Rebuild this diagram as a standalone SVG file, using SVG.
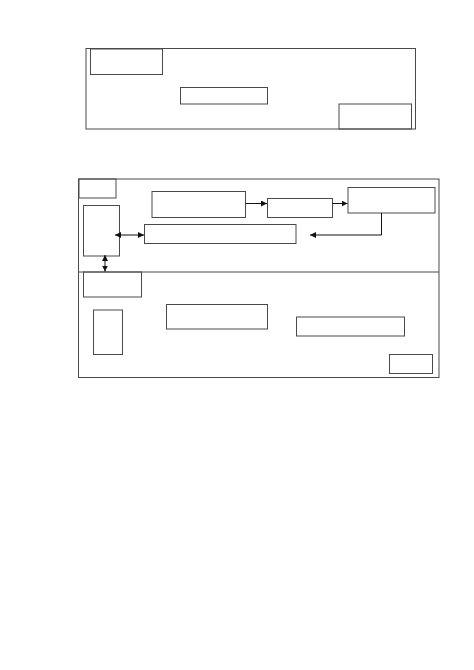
<svg xmlns="http://www.w3.org/2000/svg" width="474" height="670" viewBox="0 0 474 670">
<style>
.b{fill:none;stroke:#4a4a4a;stroke-width:1}
.c{fill:none;stroke:#111;stroke-width:1}
</style>
<defs>
<marker id="ah" viewBox="0 0 8 8" refX="8" refY="4" markerWidth="6" markerHeight="6" markerUnits="userSpaceOnUse" orient="auto-start-reverse">
<path d="M0,0 L8,4 L0,8 z" fill="#111"/>
</marker>
</defs>
<rect width="474" height="670" fill="#fff"/>
<g id="panel1">
<rect class="b" x="86" y="48.5" width="329.5" height="80.5"/>
<g id="p1a"><rect class="b" x="90.5" y="49" width="72" height="25.5"/></g>
<g id="p1b"><rect class="b" x="180.5" y="87.5" width="87" height="16.5"/></g>
<g id="p1c"><rect class="b" x="339" y="104" width="72.5" height="25"/></g>
</g>
<g id="panel2">
<rect class="b" x="78.5" y="179" width="360.5" height="198.5"/>
<line class="b" x1="78.5" y1="272" x2="439" y2="272"/>
</g>
<g id="n1"><rect class="b" x="79" y="179" width="37" height="19"/></g>
<g id="n2"><rect class="b" x="83.5" y="205.5" width="36" height="50.5"/></g>
<g id="n3"><rect class="b" x="152" y="191.5" width="93.5" height="26"/></g>
<g id="n4"><rect class="b" x="267.5" y="198.5" width="65" height="19"/></g>
<g id="n5"><rect class="b" x="348" y="187.5" width="87" height="25.5"/></g>
<g id="n6"><rect class="b" x="144.5" y="224.5" width="151.5" height="19"/></g>
<g id="n7"><rect class="b" x="83.5" y="272" width="58" height="25"/></g>
<g id="n8"><rect class="b" x="93.5" y="310" width="29" height="44.5"/></g>
<g id="n9"><rect class="b" x="166.5" y="304.5" width="101" height="24.5"/></g>
<g id="n10"><rect class="b" x="296.5" y="317" width="108" height="19"/></g>
<g id="n11"><rect class="b" x="389.5" y="354.5" width="43" height="19"/></g>
<g id="connectors">
<line class="c" x1="245.5" y1="203.5" x2="267" y2="203.5" marker-end="url(#ah)"/>
<line class="c" x1="332.5" y1="203.5" x2="347.5" y2="203.5" marker-end="url(#ah)"/>
<line class="c" x1="115" y1="235" x2="144" y2="235" marker-start="url(#ah)" marker-end="url(#ah)"/>
<polyline class="c" points="381.5,213 381.5,235 310,235" marker-end="url(#ah)"/>
<line class="c" x1="105" y1="255" x2="105" y2="271.5" marker-start="url(#ah)" marker-end="url(#ah)"/>
</g>
</svg>
